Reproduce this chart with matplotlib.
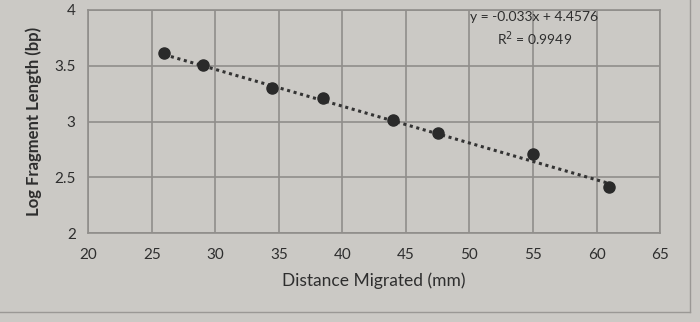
import numpy as np
import matplotlib
matplotlib.use("Agg")
import matplotlib.pyplot as plt
from matplotlib.lines import Line2D

distance = [26, 29, 34.5, 38.5, 44, 47.5, 55, 61]
log_len = [3.61, 3.51, 3.30, 3.21, 3.01, 2.90, 2.71, 2.41]
slope, intercept = -0.033, 4.4576
r2 = 0.9949

xticks = [20, 25, 30, 35, 40, 45, 50, 55, 60, 65]
yticks = [2, 2.5, 3, 3.5, 4]
ytick_labels = ["2", "2.5", "3", "3.5", "4"]

bg = "#cbc9c5"
txt = "#2e2e2e"
grid = "#908e8b"

plt.rcParams["font.family"] = ["Lato", "DejaVu Sans"]

fig = plt.figure(figsize=(7, 3.22), dpi=100, facecolor=bg)
ax = fig.add_axes([0.126, 0.276, 0.817, 0.693], facecolor=bg)

ax.set_xlim(20, 65)
ax.set_ylim(2, 4)
ax.set_xticks(xticks)
ax.set_yticks(yticks)
ax.set_yticklabels(ytick_labels)
ax.grid(True, color=grid, linewidth=1.2)
ax.set_axisbelow(True)
for s in ax.spines.values():
    s.set_color(grid)
    s.set_linewidth(1.2)
ax.tick_params(length=0, colors=txt, labelsize=11)
ax.tick_params(axis="x", pad=11)
ax.tick_params(axis="y", pad=9)

# trendline over the data range
xs = np.array([min(distance), max(distance)])
ax.plot(xs, slope * xs + intercept, linestyle=(0, (1, 1.2)), color="#333333",
        linewidth=2.2, zorder=3)
ax.plot(distance, log_len, "o", color="#2a2a2a", markersize=8, zorder=4)

ax.text(0.78, 0.995, f"y = {slope}x + {intercept}", transform=ax.transAxes,
        ha="center", va="top", fontsize=10, color=txt)
ax.text(0.78, 0.915, f"R$^2$ = {r2}", transform=ax.transAxes,
        ha="center", va="top", fontsize=10, color=txt)

ax.set_xlabel("Distance Migrated (mm)", fontsize=12.5, color=txt, labelpad=7)
ax.set_ylabel("Log Fragment Length (bp)", fontsize=12, color=txt,
              fontweight="bold", labelpad=9)

# chart border seen at right and bottom of the photo
fig.add_artist(Line2D([0.986, 0.986], [0.03, 1.0], color="#9a9895",
                      linewidth=1, transform=fig.transFigure))
fig.add_artist(Line2D([0.0, 0.986], [0.03, 0.03], color="#9a9895",
                      linewidth=1, transform=fig.transFigure))

fig.savefig("out.png", dpi=100, facecolor=bg)
